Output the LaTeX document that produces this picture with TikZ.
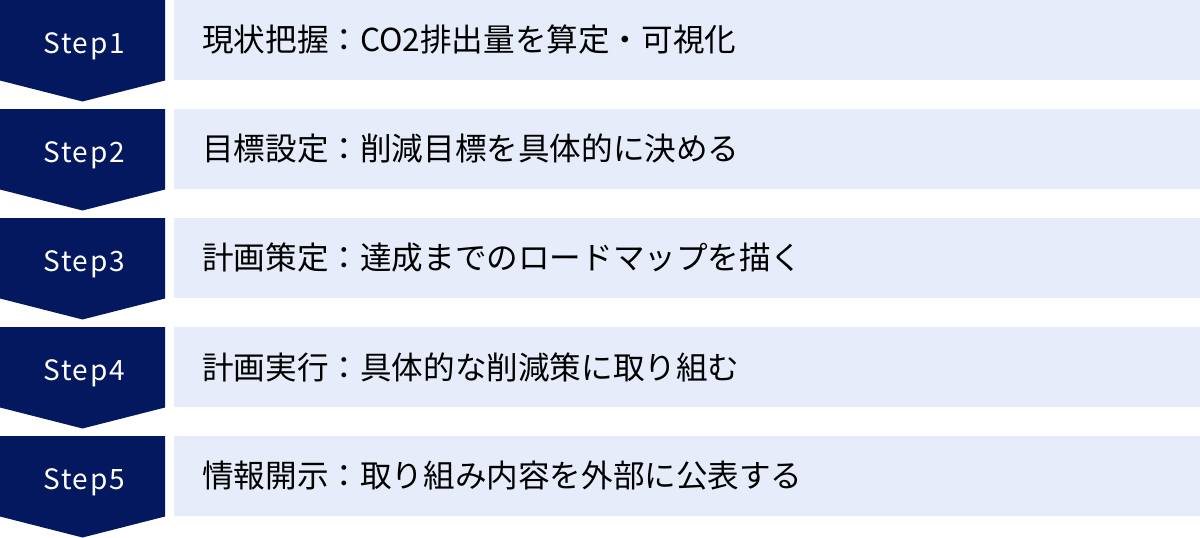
\documentclass[tikz,border=0pt]{standalone}
\usepackage{fontspec}
\newfontfamily\jpfont{Noto Sans CJK JP}
\newfontfamily\stepfont[LetterSpace=6]{Noto Sans CJK JP}
\definecolor{navy}{RGB}{4,24,96}
\definecolor{lightbg}{RGB}{230,236,249}
\begin{document}
\begin{tikzpicture}[x=1pt,y=-1pt,
  chev/.style={fill=navy},
  band/.style={fill=lightbg},
  steplabel/.style={text=white,font=\stepfont\fontsize{28}{32}\selectfont,anchor=base,inner sep=0pt},
  desc/.style={text=black,font=\jpfont\fontsize{31.6}{36}\selectfont,anchor=west,inner sep=0pt}]
\useasboundingbox (0,0) rectangle (1200,538);
\foreach \i/\t in {1/現状把握：CO2排出量を算定・可視化,2/目標設定：削減目標を具体的に決める,3/計画策定：達成までのロードマップを描く,4/計画実行：具体的な削減策に取り組む,5/情報開示：取り組み内容を外部に公表する}{
  \pgfmathsetmacro{\top}{(\i-1)*109}
  \fill[chev] (0,\top) -- (165,\top) -- (165,\top+80.5) -- (82.5,\top+101.5) -- (0,\top+80.5) -- cycle;
  \fill[band] (174,\top) rectangle (1200,\top+80);
  \node[steplabel] (s\i) at (84,\top+53) {Step\i};
  \node[desc] (d\i) at (202,\top+40) {\t};
}
\end{tikzpicture}
\end{document}
